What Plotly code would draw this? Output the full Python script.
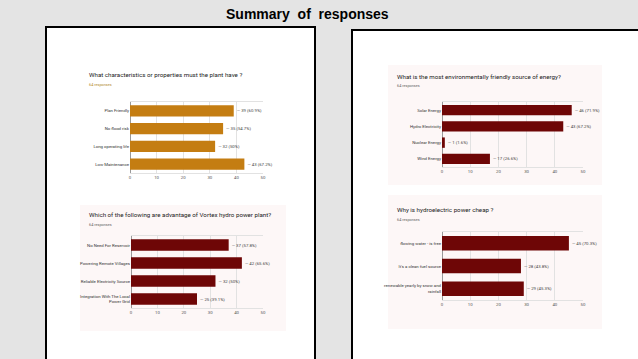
import plotly.graph_objects as go

W, H = 638, 359

# ---- data ----
q1_title = "What characteristics or properties must the plant have ?"
q1_cats = ["Plan Friendly", "No flood risk", "Long operating life", "Low Maintenance"]
q1_vals = [39, 35, 32, 43]
q1_pct = ["60.9%", "54.7%", "50%", "67.2%"]

q2_title = "Which of the following are advantage of Vortex hydro power plant?"
q2_cats = ["No Need For Reservoir", "Powering Remote Villages", "Reliable Electricity Source",
           "Integration With The Local<br>Power Grid"]
q2_vals = [37, 42, 32, 25]
q2_pct = ["57.8%", "65.6%", "50%", "39.1%"]

q3_title = "What is the most environmentally friendly source of energy?"
q3_cats = ["Solar Energy", "Hydro Electricity", "Nuclear Energy", "Wind Energy"]
q3_vals = [46, 43, 1, 17]
q3_pct = ["71.9%", "67.2%", "1.6%", "26.6%"]

q4_title = "Why is hydroelectric power cheap ?"
q4_cats = ["flowing water - is free", "It's a clean fuel source",
           "renewable yearly by snow and<br>rainfall"]
q4_vals = [45, 28, 29]
q4_pct = ["70.3%", "43.8%", "45.3%"]

responses = "64 responses"
x_ticks = [0, 10, 20, 30, 40, 50]

def px(x):
    return x / W

def py(y):
    return 1 - y / H

fig = go.Figure()

charts = [
    (q1_title, q1_cats, q1_vals, q1_pct, "#c47d12", (130, 263), (102, 173), (87, 75), "#b38a2e"),
    (q2_title, q2_cats, q2_vals, q2_pct, "#6e0606", (131, 263), (236, 308), (87, 215), "#666666"),
    (q3_title, q3_cats, q3_vals, q3_pct, "#6e0606", (442, 583), (102, 167), (395, 77), "#666666"),
    (q4_title, q4_cats, q4_vals, q4_pct, "#6e0606", (442, 583), (232, 300), (395, 210), "#666666"),
]

shapes = []
annotations = []

# slide panels
shapes.append(dict(type="rect", xref="paper", yref="paper",
                   x0=px(46), x1=px(315), y0=py(362), y1=py(27),
                   fillcolor="white", line=dict(color="black", width=2), layer="below"))
shapes.append(dict(type="rect", xref="paper", yref="paper",
                   x0=px(352), x1=px(642), y0=py(362), y1=py(30),
                   fillcolor="white", line=dict(color="black", width=2), layer="below"))
# faint card backgrounds
for (x0, y0, x1, y1) in [(80, 205, 286, 331), (388, 65, 602, 185), (388, 195, 602, 329)]:
    shapes.append(dict(type="rect", xref="paper", yref="paper",
                       x0=px(x0), x1=px(x1), y0=py(y1), y1=py(y0),
                       fillcolor="#fdf7f7", line=dict(width=0), layer="below"))

annotations.append(dict(text="<b>Summary  of  responses</b>", xref="paper", yref="paper",
                        x=px(307), y=py(14), showarrow=False, xanchor="center", yanchor="middle",
                        font=dict(family="Liberation Sans, Arial", size=14, color="black")))

for i, (title, cats, vals, pct, color, xd, yd, tpos, rcol) in enumerate(charts, start=1):
    xa = "x" if i == 1 else f"x{i}"
    ya = "y" if i == 1 else f"y{i}"
    texts = [f"— {v} ({p})" for v, p in zip(vals, pct)]
    fig.add_trace(go.Bar(
        x=vals, y=cats, orientation="h", marker=dict(color=color, line=dict(width=0)),
        text=texts, textposition="outside", cliponaxis=False,
        textfont=dict(family="Roboto, Arial", size=4.3, color="#444444"),
        xaxis=xa, yaxis=ya, showlegend=False, hoverinfo="skip",
    ))
    fig.update_layout(**{
        ("xaxis" if i == 1 else f"xaxis{i}"): dict(
            domain=[px(xd[0]), px(xd[1])], anchor=ya, range=[0, 50],
            tickvals=x_ticks, showgrid=True, gridcolor="#e2e2e2", gridwidth=0.6,
            zeroline=True, zerolinecolor="#999999", zerolinewidth=0.7,
            tickfont=dict(family="Roboto, Arial", size=4.3, color="#555555"),
            showline=True, linecolor="#e2e2e2", linewidth=0.6, mirror=True,
            ticks="", fixedrange=True, automargin=False),
        ("yaxis" if i == 1 else f"yaxis{i}"): dict(
            domain=[py(yd[1]), py(yd[0])], anchor=xa, autorange="reversed",
            tickfont=dict(family="Roboto, Arial", size=4.3, color="#333333"),
            showgrid=False, showline=False, ticks="", automargin=False,
            fixedrange=True),
    })
    annotations.append(dict(text=title, xref="paper", yref="paper", x=px(tpos[0]), y=py(tpos[1]),
                            xanchor="left", yanchor="middle", showarrow=False,
                            font=dict(family="Roboto, Arial", size=6.2, color="#222222")))
    annotations.append(dict(text=responses, xref="paper", yref="paper", x=px(tpos[0]), y=py(tpos[1] + 9),
                            xanchor="left", yanchor="middle", showarrow=False,
                            font=dict(family="Roboto, Arial", size=3.8, color=rcol)))

fig.update_layout(
    width=W, height=H, margin=dict(l=0, r=0, t=0, b=0),
    paper_bgcolor="#e4e4e4", plot_bgcolor="rgba(0,0,0,0)",
    bargap=0.36, shapes=shapes, annotations=annotations,
)

fig.write_html("out.html", config={"displayModeBar": False},
               post_script="document.body.style.margin='0';document.body.style.overflow='hidden';")
